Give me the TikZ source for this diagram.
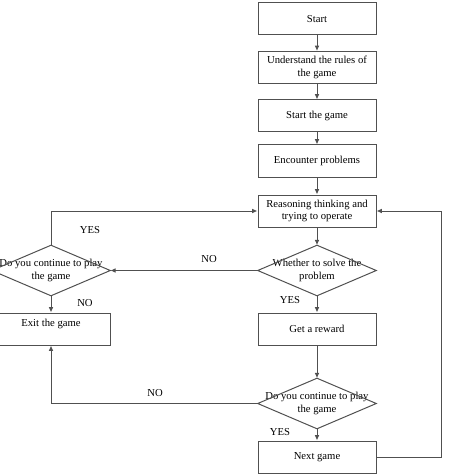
\documentclass[tikz,border=0pt]{standalone}
\usepackage{fontspec}
\setmainfont{Liberation Serif}
\usetikzlibrary{arrows.meta}
\definecolor{linegray}{RGB}{80,80,80}
\begin{document}
\begin{tikzpicture}[x=0.75pt, y=-0.75pt,
  every node/.style={font=\fontsize{8}{9.5}\selectfont, align=center},
  box/.style={draw=linegray, line width=0.75pt, minimum width=88.5pt, minimum height=24pt, inner sep=1pt},
  choice/.style={minimum width=88.5pt, minimum height=37.5pt, inner sep=0pt},
  flow/.style={draw=linegray, line width=0.75pt, -{Latex[length=4pt,width=3.5pt]}}]
  \useasboundingbox (0,0) rectangle (474,474);
  % main column
  \node[box] (start)  at (317,19)    {Start};
  \node[box] (rules)  at (317,67.5)  {Understand the rules of\\the game};
  \node[box] (play)   at (317,116)   {Start the game};
  \node[box] (meet)   at (317,161)   {Encounter problems};
  \node[box] (reason) at (317,211)   {Reasoning thinking and\\trying to operate};
  \node[choice] (solve) at (317,270.5) {Whether to solve the\\problem};
  \node[box] (reward) at (317,329)   {Get a reward};
  \node[choice] (again) at (317,403.5) {Do you continue to play\\the game};
  \node[box] (next)   at (317,457)   {Next game};
  % left column
  \node[choice] (cont) at (51,270.5) {Do you continue to play\\the game};
  \node[box] (quit)   at (51,329)    {Exit the game\\\mbox{}};
  \foreach \d in {solve,cont,again}
    \draw[linegray, line width=0.75pt] (\d.north) -- (\d.east) -- (\d.south) -- (\d.west) -- cycle;
  % labels
  \node (yes1) at (90,230)  {YES};
  \node (no1)  at (209,259) {NO};
  \node (no2)  at (85,303)  {NO};
  \node (yes2) at (290,300) {YES};
  \node (no3)  at (155,393) {NO};
  \node (yes3) at (280,432) {YES};
  % connectors
  \draw[flow] (start) -- (rules);
  \draw[flow] (rules) -- (play);
  \draw[flow] (play) -- (meet);
  \draw[flow] (meet) -- (reason);
  \draw[flow] (reason) -- (solve.north);
  \draw[flow] (solve.west) -- (cont.east);
  \draw[flow] (solve.south) -- (reward);
  \draw[flow] (reward) -- (again.north);
  \draw[flow] (again.south) -- (next);
  \draw[flow] (next.east) -- ++(65,0) |- (reason.east);
  \draw[flow] (cont.north) |- (reason.west);
  \draw[flow] (cont.south) -- (quit);
  \draw[flow] (again.west) -| (quit.south);
\end{tikzpicture}
\end{document}
